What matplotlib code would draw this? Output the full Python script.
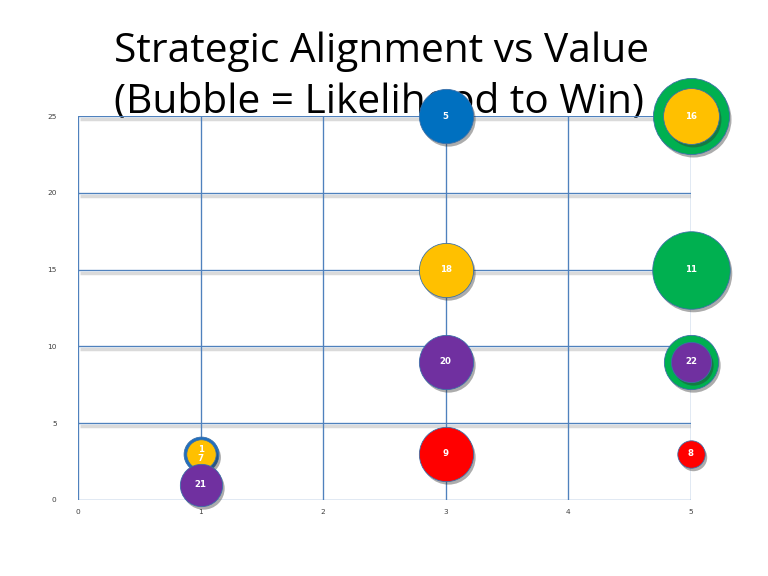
import matplotlib
matplotlib.use('Agg')
import matplotlib.pyplot as plt
import matplotlib.transforms as mtrans

# project bubbles: strategic alignment (x), value (y), likelihood to win (size)
labels = ['', '7', '21', '5', '18', '20', '9', '', '16', '11', '', '22', '8']
align = [1, 1, 1, 3, 3, 3, 3, 5, 5, 5, 5, 5, 5]
value = [3, 3, 1, 25, 15, 9, 3, 25, 25, 15, 9, 9, 3]
likelihood = [21, 15, 31, 51, 51, 51, 51, 100, 54, 104, 51, 28, 13]
colors = ['#1F6FC0', '#FFC000', '#7030A0', '#0070C0', '#FFC000', '#7030A0', '#FF0000',
          '#00B050', '#FFC000', '#00B050', '#00B050', '#7030A0', '#FF0000']
xticks = [0, 1, 2, 3, 4, 5]
yticks = [0, 5, 10, 15, 20, 25]
title = 'Strategic Alignment vs Value\n(Bubble = Likelihood to Win)'

fig = plt.figure(figsize=(8, 6), dpi=96)
fig.text(0.149, 0.946, title, fontsize=30.5, family='Open Sans', va='top', ha='left',
         linespacing=1.36, zorder=-5)
ax = fig.add_axes([0.1016, 0.132, 0.7981, 0.6666])
ax.patch.set_visible(False)
ax.set_xlim(0, 5)
ax.set_ylim(0, 25)

grid = '#4F81BD'
shadow_h = mtrans.offset_copy(ax.transData, fig=fig, x=1.5, y=-3, units='dots')
for yv in yticks:
    ax.plot([0, 5], [yv, yv], color='#DADADA', lw=2.6, zorder=1, transform=shadow_h, solid_capstyle='butt')
    ax.plot([0, 5], [yv, yv], color=grid, lw=1.0, zorder=2)
for xv in xticks:
    ax.plot([xv, xv], [0, 25], color=grid, lw=1.0, zorder=2)

for s in ax.spines.values():
    s.set_visible(False)
ax.set_xticks(xticks)
ax.set_yticks(yticks)
ax.tick_params(length=0, labelsize=5.5, labelcolor='#404040')
ax.tick_params(axis='y', pad=16)
ax.tick_params(axis='x', pad=7)

sizes = [v * 32.5 for v in likelihood]
shadow_b = mtrans.offset_copy(ax.transData, fig=fig, x=2, y=-3, units='dots')
for i in range(len(labels)):
    ax.scatter(align[i], value[i], s=sizes[i], color='#303030', alpha=0.4, lw=0,
               transform=shadow_b, zorder=3 + 2 * i, clip_on=False)
    ax.scatter(align[i], value[i], s=sizes[i], color=colors[i], edgecolor='#3A6FA8',
               lw=0.6, zorder=4 + 2 * i, clip_on=False)

for i, lab in enumerate(labels):
    if lab:
        t = '1\n7' if lab == '7' else lab
        ax.text(align[i], value[i], t, color='white', fontsize=6.5, fontweight='bold',
                ha='center', va='center', zorder=100, linespacing=1.1)

fig.savefig('out.png', dpi=96)
